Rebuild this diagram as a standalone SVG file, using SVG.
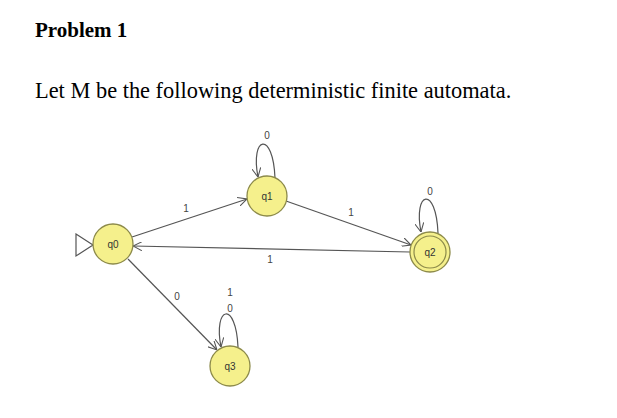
<svg xmlns="http://www.w3.org/2000/svg" width="617" height="418" viewBox="0 0 617 418">
<style>
.st{fill:#f5f08c;stroke:#8c8a4a;stroke-width:1.3}
.e{fill:none;stroke:#555;stroke-width:1.2}
.sl{font-family:"Liberation Sans",Arial,sans-serif;font-size:10px;fill:#333;text-anchor:middle}
.el{font-family:"Liberation Sans",Arial,sans-serif;font-size:10px;fill:#444;text-anchor:middle}
</style>
<defs><marker id="a" viewBox="0 0 10 10" refX="10" refY="5" markerWidth="9" markerHeight="9" orient="auto" markerUnits="userSpaceOnUse"><path d="M0,0 L10,5 L0,10" fill="none" stroke="#555" stroke-width="1.2"/></marker></defs>
<rect width="617" height="418" fill="#fff"/>
<text x="35" y="37" font-family="Liberation Serif,serif" font-size="21" font-weight="bold">Problem 1</text>
<text x="35" y="98" font-family="Liberation Serif,serif" font-size="22.4">Let M be the following deterministic finite automata.</text>
<g id="connectors">
<path class="e" d="M76,234 L93,245 L76,256 Z"/>
<line class="e" x1="132" y1="237" x2="247" y2="199" marker-end="url(#a)"/>
<line class="e" x1="286" y1="201" x2="411" y2="245" marker-end="url(#a)"/>
<line class="e" x1="410" y1="252" x2="133" y2="246" marker-end="url(#a)"/>
<line class="e" x1="128" y1="259" x2="217" y2="350" marker-end="url(#a)"/>
<path class="e" d="M275,178 C273,130 250,136 258,177" marker-end="url(#a)"/>
<path class="e" d="M438,233 C436,185 413,191 421,232" marker-end="url(#a)"/>
<path class="e" d="M238,347 C236,300 213,306 221,347" marker-end="url(#a)"/>
<text class="el" x="267" y="139">0</text>
<text class="el" x="430" y="195">0</text>
<text class="el" x="230" y="296">1</text>
<text class="el" x="230" y="312">0</text>
<text class="el" x="186" y="212">1</text>
<text class="el" x="351" y="216">1</text>
<text class="el" x="270" y="263">1</text>
<text class="el" x="177" y="300">0</text>
</g>
<g id="q0"><circle class="st" cx="113" cy="244" r="20"/><text class="sl" x="113" y="248">q0</text></g>
<g id="q1"><circle class="st" cx="267" cy="196" r="20"/><text class="sl" x="267" y="200">q1</text></g>
<g id="q2"><circle class="st" cx="430" cy="252" r="20"/><circle cx="430" cy="252" r="16" fill="none" stroke="#8c8a4a" stroke-width="1.2"/><text class="sl" x="430" y="256">q2</text></g>
<g id="q3"><circle class="st" cx="230" cy="366" r="20"/><text class="sl" x="230" y="370">q3</text></g>
</svg>
